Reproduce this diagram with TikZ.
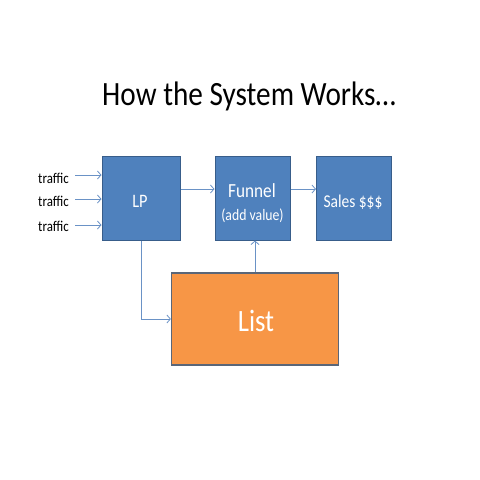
\documentclass[tikz,border=0pt]{standalone}
\usepackage{fontspec}
\setmainfont{Carlito}
\usetikzlibrary{arrows.meta}
\definecolor{boxblue}{HTML}{4F81BD}
\definecolor{boxedge}{HTML}{385D8A}
\definecolor{boxorange}{HTML}{F79646}
\definecolor{orangeedge}{HTML}{5A6678}
\definecolor{connblue}{HTML}{6A92C6}
\newcommand{\sq}[1]{\scalebox{0.86}[1]{#1}}
\tikzset{
  bluebox/.style={draw=boxedge, line width=1pt, fill=boxblue, inner sep=0pt},
  listbox/.style={draw=orangeedge, line width=1.2pt, fill=boxorange, inner sep=0pt},
  conn/.style={draw=connblue, line width=0.8pt, -{Straight Barb[length=3.5pt,width=8pt]}},
  lbl/.style={font=\fontsize{15}{17}\selectfont, inner sep=0pt, anchor=base west},
  wlbl/.style={text=white, inner sep=0pt, anchor=base}
}
\begin{document}
\begin{tikzpicture}[x=1pt,y=-1pt]
\useasboundingbox (0,0) rectangle (480,480);
\node[inner sep=0pt, anchor=base] (title) at (249,105) {\fontsize{34}{40}\selectfont\sq{How the System Works\ldots}};
\node[bluebox, minimum width=78pt, minimum height=84pt] (LP) at (141,198) {};
\node[bluebox, minimum width=75pt, minimum height=84pt] (Funnel) at (252.5,198) {};
\node[bluebox, minimum width=75pt, minimum height=84pt] (Sales) at (354,198) {};
\node[listbox, minimum width=167pt, minimum height=92pt] (List) at (255,319) {};
\node[wlbl, font=\fontsize{19}{22}\selectfont] (LPt) at (140,207.3) {\sq{LP}};
\node[wlbl, font=\fontsize{20}{24}\selectfont] (Funt) at (252,197.7) {\sq{Funnel}};
\node[wlbl, font=\fontsize{16}{19}\selectfont] (Funv) at (252.5,220.5) {\sq{(add value)}};
\node[wlbl, font=\fontsize{18}{21}\selectfont] (Salest) at (353,207) {\sq{Sales \$\$\$}};
\node[wlbl, font=\fontsize{31}{36}\selectfont] (Listt) at (256,331.7) {\sq{List}};
\node[lbl] (t1) at (38,183.3) {\sq{traffic}};
\node[lbl] (t2) at (38,206) {\sq{traffic}};
\node[lbl] (t3) at (38,231) {\sq{traffic}};
\coordinate (s1) at (75,175);
\coordinate (s2) at (75,199);
\coordinate (s3) at (75,225);
\draw[conn] (s1) -- (s1 -| LP.west);
\draw[conn] (s2) -- (s2 -| LP.west);
\draw[conn] (s3) -- (s3 -| LP.west);
\draw[conn] ([yshift=9pt]LP.east) -- ([yshift=9pt]Funnel.west);
\draw[conn] ([yshift=9pt]Funnel.east) -- ([yshift=9pt]Sales.west);
\draw[conn] (LP.south) |- (List.west);
\draw[conn] (List.north) -- (List.north |- Funnel.south);
\end{tikzpicture}
\end{document}
